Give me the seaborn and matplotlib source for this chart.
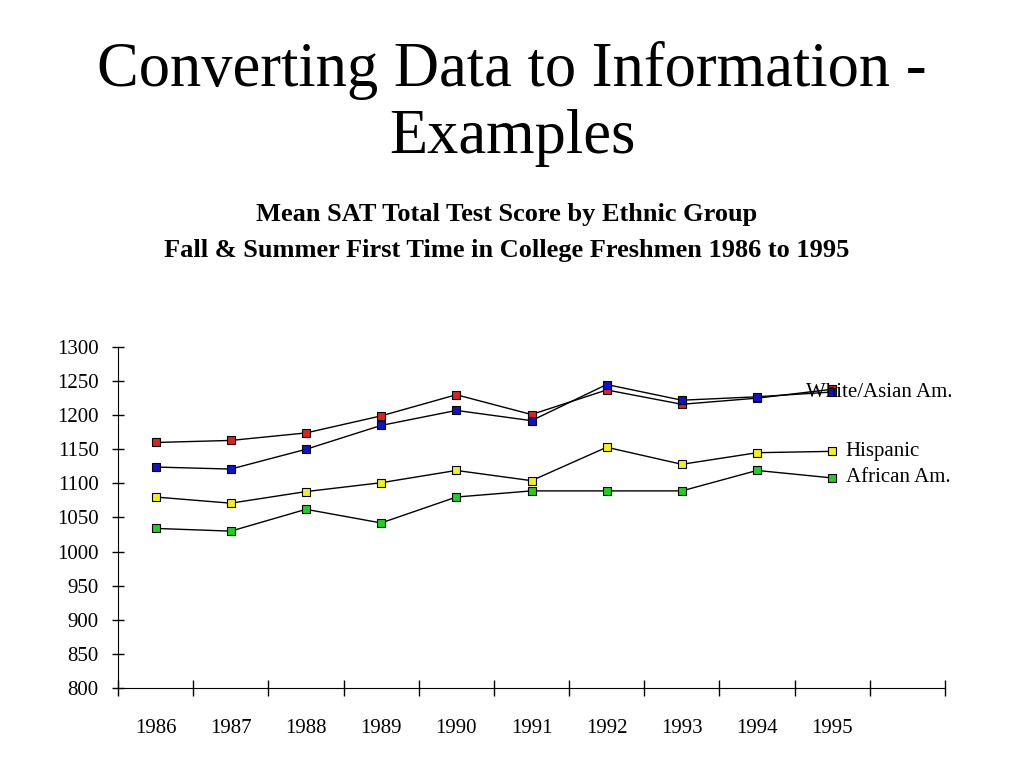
import matplotlib
matplotlib.use("Agg")
import matplotlib.pyplot as plt
import seaborn as sns
import pandas as pd

years = ["1986", "1987", "1988", "1989", "1990", "1991", "1992", "1993", "1994", "1995"]
white = [1160, 1163, 1174, 1199, 1230, 1201, 1237, 1216, 1225, 1238]
asian = [1124, 1121, 1150, 1185, 1207, 1192, 1245, 1222, 1227, 1234]
hispanic = [1080, 1071, 1088, 1101, 1119, 1104, 1153, 1128, 1145, 1147]
african = [1034, 1030, 1062, 1042, 1080, 1089, 1089, 1089, 1119, 1108]

series = [("White", white, "#e02020"), ("Asian", asian, "#1010d0"),
          ("Hispanic", hispanic, "#f0f020"), ("African", african, "#20d020")]
rows = []
for name, vals, _ in series:
    for i, v in enumerate(vals):
        rows.append({"group": name, "x": i, "score": v})
df = pd.DataFrame(rows)

plt.rcParams["font.family"] = "Liberation Serif"
fig = plt.figure(figsize=(10.24, 7.68), dpi=100)
ax = fig.add_axes([118/1024, 1 - 688/768, (945-118)/1024, (688-347)/768])

for name, vals, col in series:
    sub = df[df.group == name]
    sns.lineplot(data=sub, x="x", y="score", ax=ax, color="black", linewidth=1,
                 marker="s", markersize=6, markerfacecolor=col,
                 markeredgecolor="black", markeredgewidth=0.8, legend=False)

ax.set_xlim(-0.5, 10.5)
ax.set_ylim(800, 1300)
ax.set_yticks(range(800, 1301, 50))
ax.set_xticks([i - 0.5 for i in range(12)])
ax.set_xticklabels([])
ax.tick_params(axis="x", direction="inout", length=12, width=1)
ax.tick_params(axis="y", direction="inout", length=8, width=1, labelsize=15, pad=10)
for i, y in enumerate(years):
    ax.text(i, 755, y, ha="center", va="top", fontsize=15)
ax.set_xlabel("")
ax.set_ylabel("")
for s in ["top", "right"]:
    ax.spines[s].set_visible(False)

ax.text(8.65, 1233, "White/Asian Am.", fontsize=15, va="center")
ax.text(9.18, 1147, "Hispanic", fontsize=15, va="center")
ax.text(9.18, 1108, "African Am.", fontsize=15, va="center")

fig.text(0.5, 1 - 70/768, "Converting Data to Information -", ha="center", va="center", fontsize=45)
fig.text(0.5, 1 - 138/768, "Examples", ha="center", va="center", fontsize=45)
fig.text(0.495, 1 - 215/768, "Mean SAT Total Test Score by Ethnic Group", ha="center", va="center",
         fontsize=19, fontweight="bold")
fig.text(0.495, 1 - 251/768, "Fall & Summer First Time in College Freshmen 1986 to 1995", ha="center",
         va="center", fontsize=19, fontweight="bold")

fig.savefig("out.png", dpi=100)
